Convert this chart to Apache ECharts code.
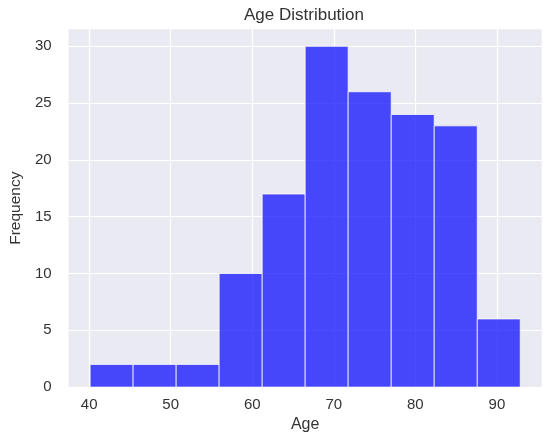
<!DOCTYPE html>
<html>
<head>
<meta charset="utf-8">
<script src="https://cdn.jsdelivr.net/npm/echarts@6/dist/echarts.min.js"></script>
<style>
html,body{margin:0;padding:0;background:#fff;}
#chart{width:550px;height:438px;}
</style>
</head>
<body>
<div id="chart"></div>
<script>
// Histogram bin edges (Age) and counts (Frequency)
const binEdges = [40.12, 45.39, 50.67, 55.94, 61.22, 66.49, 71.76, 77.04, 82.31, 87.59, 92.86];
const counts = [2, 2, 2, 10, 17, 30, 26, 24, 23, 6];
const xTicks = [40, 50, 60, 70, 80, 90];
const yTicks = [0, 5, 10, 15, 20, 25, 30];

const data = counts.map((c, i) => [binEdges[i], binEdges[i + 1], c]);

const chart = echarts.init(document.getElementById('chart'));
const font = 'Liberation Sans, Arial, sans-serif';
const textColor = '#333333';

chart.setOption({
  animation: false,
  title: {
    text: 'Age Distribution',
    left: 304,
    top: 7,
    padding: 0,
    textAlign: 'center',
    textStyle: { fontFamily: font, fontSize: 17, fontWeight: 'normal', color: textColor }
  },
  grid: {
    left: 66.7, right: 8.3, top: 29.3, bottom: 50.7,
    show: true, backgroundColor: '#EAEAF2', borderWidth: 0
  },
  xAxis: {
    type: 'value',
    min: 37.48, max: 95.49,
    name: 'Age', nameLocation: 'middle', nameGap: 29,
    nameTextStyle: { fontFamily: font, fontSize: 16, color: textColor },
    axisLine: { show: false },
    axisTick: { show: false, customValues: xTicks },
    axisLabel: { customValues: xTicks, margin: 10, fontFamily: font, fontSize: 15, color: textColor },
    splitLine: { show: true, customValues: xTicks, lineStyle: { color: '#ffffff', width: 1.2 } }
  },
  yAxis: {
    type: 'value',
    min: 0, max: 31.5,
    name: 'Frequency', nameLocation: 'middle', nameGap: 43,
    nameTextStyle: { fontFamily: font, fontSize: 15.5, color: textColor },
    axisLine: { show: false },
    axisTick: { show: false, customValues: yTicks },
    axisLabel: { customValues: yTicks, margin: 17, fontFamily: font, fontSize: 15, color: textColor },
    splitLine: { show: true, customValues: yTicks, lineStyle: { color: '#ffffff', width: 1.2 } }
  },
  series: [{
    type: 'custom',
    data: data,
    encode: { x: [0, 1], y: 2 },
    renderItem: function (params, api) {
      const p0 = api.coord([api.value(0), api.value(2)]);
      const p1 = api.coord([api.value(1), 0]);
      return {
        type: 'rect',
        shape: { x: p0[0], y: p0[1], width: p1[0] - p0[0], height: p1[1] - p0[1] },
        style: { fill: 'rgba(0,0,255,0.7)', stroke: 'rgba(255,255,255,0.75)', lineWidth: 1 }
      };
    }
  }]
});
</script>
</body>
</html>
